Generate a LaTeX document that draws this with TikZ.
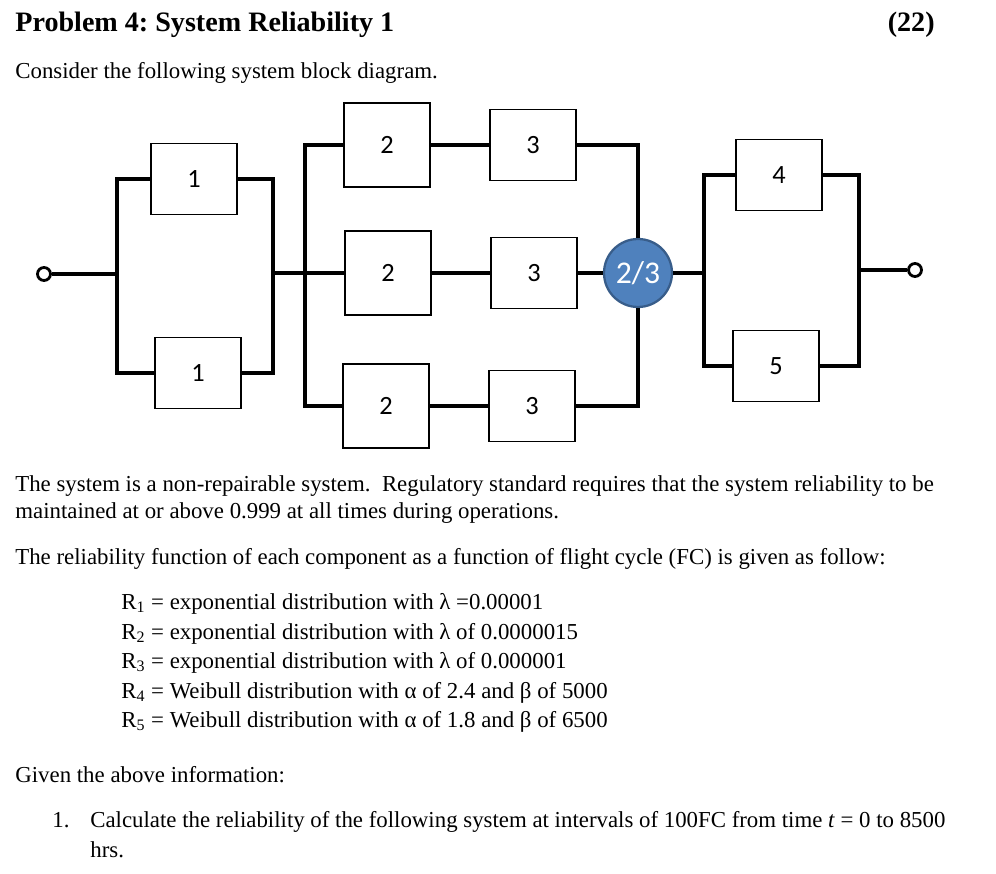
\documentclass[tikz,border=0pt]{standalone}
\usepackage{fontspec}
\setmainfont{Liberation Serif}
\newfontfamily\blkfont{Carlito}
\definecolor{votefill}{RGB}{79,129,189}
\definecolor{votedraw}{RGB}{56,93,138}
\usetikzlibrary{positioning}
\frenchspacing

\begin{document}
\begin{tikzpicture}[x=0.02cm, y=-0.02cm,
    blk/.style={draw, line width=0.8pt, fill=white, inner sep=0pt,
                minimum width=1.72cm, minimum height=1.42cm,
                font=\blkfont\fontsize{15}{17}\selectfont},
    tallblk/.style={blk, minimum height=1.68cm},
    vote/.style={circle, draw=votedraw, line width=1.3pt, fill=votefill,
                 minimum size=1.36cm, inner sep=0pt, text=white,
                 font=\blkfont\fontsize{18}{20}\selectfont},
    term/.style={circle, draw, line width=1.6pt, fill=white,
                 minimum size=0.26cm, inner sep=0pt},
    wire/.style={line width=2.6pt},
    txt/.style={anchor=base west, inner sep=0pt,
                font=\fontsize{13}{15}\selectfont}
  ]
    \useasboundingbox (0,0) rectangle (996,874);

    % Heading
    \node[txt, font=\fontsize{16}{18}\selectfont\bfseries] (title) at (15, 32)
      {Problem 4: System Reliability 1};
    \node[txt, anchor=base east, font=\fontsize{16}{18}\selectfont\bfseries] (marks) at (935, 32)
      {(22)};
    \node[txt] (intro) at (15, 79) {Consider the following system block diagram.};

    % Terminals
    \node[term] (in) at (44, 274) {};
    \node[term] (out) at (915, 270) {};

    % Stage 1: two blocks 1 in parallel
    \node[blk] (b1t) at (194, 179) {1};
    \node[blk] (b1b) at (198, 373) {1};
    \coordinate (s1) at (117, 274);
    \coordinate (j1) at (273, 273);
    \draw[wire] (in) -- (s1);
    \draw[wire] (b1t.west) -| (s1) |- (b1b.west);
    \draw[wire] (b1t.east) -| (j1) |- (b1b.east);

    % Stage 2: three branches of 2 and 3, voted 2/3
    \node[tallblk] (b2t) at (387, 145) {2};
    \node[tallblk] (b2m) at (388, 273) {2};
    \node[tallblk] (b2b) at (386, 406) {2};
    \node[blk] (b3t) at (533, 145) {3};
    \node[blk] (b3m) at (534, 273) {3};
    \node[blk] (b3b) at (532, 406) {3};
    \node[vote] (v23) at (638, 273) {2/3};
    \coordinate (s2) at (305, 273);
    \draw[wire] (j1) -- (s2);
    \draw[wire] (b2t.west) -| (s2) |- (b2b.west);
    \draw[wire] (s2) -- (b2m.west);
    \draw[wire] (b2t) -- (b3t);
    \draw[wire] (b2m) -- (b3m);
    \draw[wire] (b2b) -- (b3b);
    \draw[wire] (b3t.east) -| (v23.north);
    \draw[wire] (b3b.east) -| (v23.south);
    \draw[wire] (b3m) -- (v23);

    % Stage 3: blocks 4 and 5 in parallel
    \node[blk] (b4) at (779, 175) {4};
    \node[blk] (b5) at (776, 366) {5};
    \coordinate (s3) at (704, 273);
    \coordinate (j3) at (859, 270);
    \draw[wire] (v23) -- (s3);
    \draw[wire] (b4.west) -| (s3) |- (b5.west);
    \draw[wire] (b4.east) -| (j3) |- (b5.east);
    \draw[wire] (j3) -- (out);

    % Problem text
    \node[txt] (p1a) at (15, 491)
      {The system is a non-repairable system.\ \ Regulatory standard requires that the system reliability to be};
    \node[txt] (p1b) at (15, 518)
      {maintained at or above 0.999 at all times during operations.};
    \node[txt] (p2) at (15, 564)
      {The reliability function of each component as a function of flight cycle (FC) is given as follow:};

    % Component data
    \node[txt] (r1) at (121, 609) {R\textsubscript{1} = exponential distribution with λ =0.00001};
    \node[txt] (r2) at (121, 639) {R\textsubscript{2} = exponential distribution with λ of 0.0000015};
    \node[txt] (r3) at (121, 668) {R\textsubscript{3} = exponential distribution with λ of 0.000001};
    \node[txt] (r4) at (121, 698) {R\textsubscript{4} = Weibull distribution with α of 2.4 and β of 5000};
    \node[txt] (r5) at (121, 727) {R\textsubscript{5} = Weibull distribution with α of 1.8 and β of 6500};

    % Question
    \node[txt] (given) at (15, 782) {Given the above information:};
    \node[txt] (q1n) at (52, 827) {1.};
    \node[txt] (q1a) at (90, 827)
      {Calculate the reliability of the following system at intervals of 100FC from time \textit{t} = 0 to 8500};
    \node[txt] (q1b) at (90, 857) {hrs.};
  \end{tikzpicture}
\end{document}
